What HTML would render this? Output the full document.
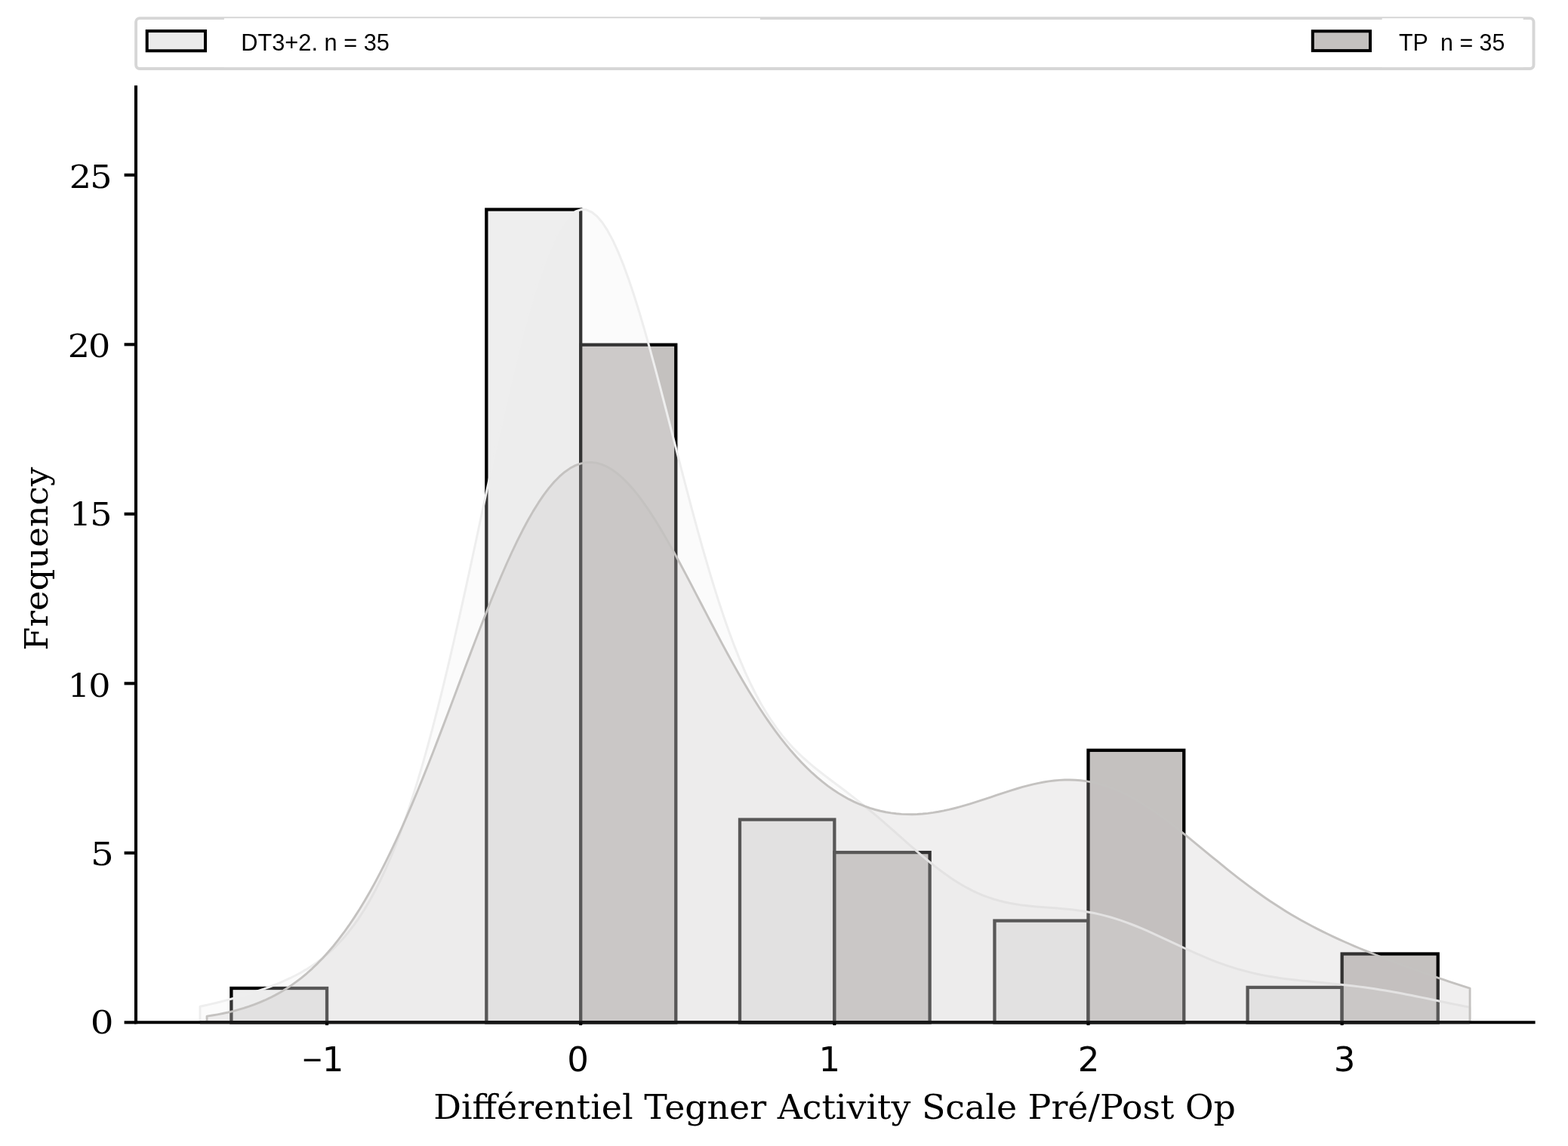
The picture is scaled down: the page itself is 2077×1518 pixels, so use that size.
<!DOCTYPE html>
<html lang="fr"><head><meta charset="utf-8"><title>Différentiel Tegner Activity Scale Pré/Post Op</title>
<style>
html,body{margin:0;padding:0;background:#fff;}
body{width:2077px;height:1518px;overflow:hidden;}
svg{display:block;position:absolute;left:0;top:0;}
text{fill:#000;white-space:pre;}
.serif{font-family:"DejaVu Serif","Liberation Serif",serif;}
.sans{font-family:"Liberation Sans","DejaVu Sans",sans-serif;}
.dsans{font-family:"DejaVu Sans","Liberation Sans",sans-serif;}
</style></head><body>
<svg width="2077" height="1518" viewBox="0 0 2077 1518">
<rect x="0" y="0" width="2077" height="1518" fill="#ffffff"/>
<g id="legend">
<rect x="180.1" y="24.1" width="1851.4" height="66.95" rx="5" ry="5" fill="#ffffff" stroke="#d6d6d6" stroke-width="3.9"/>
<rect x="296.9" y="24.2" width="710" height="64.9" fill="#ffffff"/>
<rect x="1830.7" y="24.2" width="187" height="64.9" fill="#ffffff"/>
<rect x="194.7" y="41.1" width="77.3" height="26.2" fill="#ebebeb" stroke="#000" stroke-width="4"/>
<rect x="1738.8" y="41.3" width="76.2" height="25.8" fill="#c4c1bf" stroke="#000" stroke-width="4"/>
<text class="sans" transform="translate(319.2 66.8) scale(0.98 1)" font-size="31.4">DT3+2. n = 35</text>
<text class="sans" transform="translate(1852.9 67.2) scale(0.968 1)" font-size="31.4">TP  n = 35</text>
</g>
<g id="bars" stroke="#000" stroke-width="4.3" stroke-linejoin="miter">
<rect x="306.39" y="1309.00" width="126.66" height="45.30" fill="#eeeeee"/>
<rect x="644.34" y="277.50" width="124.86" height="1076.80" fill="#eeeeee"/>
<rect x="979.99" y="1085.60" width="125.36" height="268.70" fill="#eeeeee"/>
<rect x="1317.44" y="1219.60" width="124.06" height="134.70" fill="#eeeeee"/>
<rect x="1652.59" y="1307.90" width="125.06" height="46.40" fill="#eeeeee"/>
<rect x="769.20" y="456.70" width="126.06" height="897.60" fill="#c4c1bf"/>
<rect x="1105.35" y="1129.10" width="126.26" height="225.20" fill="#c4c1bf"/>
<rect x="1441.50" y="993.80" width="126.76" height="360.50" fill="#c4c1bf"/>
<rect x="1777.65" y="1263.50" width="127.06" height="90.80" fill="#c4c1bf"/>
</g>
<g id="kde" stroke-linejoin="round">
<path d="M264.98 1354.30L264.98 1333.23L271.98 1331.70L278.99 1330.10L286.00 1328.44L293.01 1326.71L300.02 1324.92L307.03 1323.05L314.04 1321.11L321.04 1319.10L328.05 1316.99L335.06 1314.80L342.07 1312.50L349.08 1310.09L356.09 1307.55L363.10 1304.87L370.11 1302.02L377.11 1298.98L384.12 1295.73L391.13 1292.24L398.14 1288.48L405.15 1284.40L412.16 1279.98L419.17 1275.16L426.18 1269.90L433.18 1264.15L440.19 1257.86L447.20 1250.97L454.21 1243.43L461.22 1235.17L468.23 1226.14L475.24 1216.27L482.25 1205.51L489.25 1193.79L496.26 1181.06L503.27 1167.26L510.28 1152.34L517.29 1136.27L524.30 1118.99L531.31 1100.49L538.32 1080.73L545.32 1059.71L552.33 1037.42L559.34 1013.87L566.35 989.10L573.36 963.12L580.37 936.00L587.38 907.81L594.39 878.61L601.39 848.51L608.40 817.61L615.41 786.05L622.42 753.96L629.43 721.49L636.44 688.81L643.45 656.10L650.46 623.54L657.46 591.32L664.47 559.65L671.48 528.73L678.49 498.76L685.50 469.94L692.51 442.49L699.52 416.60L706.52 392.44L713.53 370.21L720.54 350.06L727.55 332.14L734.56 316.59L741.57 303.52L748.58 293.03L755.59 285.17L762.59 280.00L769.60 277.55L776.61 277.81L783.62 280.76L790.63 286.35L797.64 294.51L804.65 305.13L811.66 318.12L818.66 333.33L825.67 350.60L832.68 369.77L839.69 390.66L846.70 413.07L853.71 436.80L860.72 461.65L867.73 487.39L874.73 513.83L881.74 540.75L888.75 567.94L895.76 595.20L902.77 622.36L909.78 649.22L916.79 675.63L923.80 701.43L930.80 726.49L937.81 750.69L944.82 773.94L951.83 796.14L958.84 817.23L965.85 837.16L972.86 855.91L979.87 873.46L986.87 889.81L993.88 904.99L1000.89 919.01L1007.90 931.94L1014.91 943.82L1021.92 954.71L1028.93 964.69L1035.94 973.84L1042.94 982.23L1049.95 989.95L1056.96 997.09L1063.97 1003.73L1070.98 1009.96L1077.99 1015.85L1085.00 1021.49L1092.00 1026.94L1099.01 1032.26L1106.02 1037.53L1113.03 1042.77L1120.04 1048.05L1127.05 1053.39L1134.06 1058.82L1141.07 1064.36L1148.07 1070.02L1155.08 1075.80L1162.09 1081.69L1169.10 1087.69L1176.11 1093.78L1183.12 1099.94L1190.13 1106.14L1197.14 1112.36L1204.14 1118.56L1211.15 1124.70L1218.16 1130.76L1225.17 1136.69L1232.18 1142.47L1239.19 1148.07L1246.20 1153.44L1253.21 1158.57L1260.21 1163.43L1267.22 1168.00L1274.23 1172.26L1281.24 1176.20L1288.25 1179.81L1295.26 1183.10L1302.27 1186.06L1309.28 1188.70L1316.28 1191.02L1323.29 1193.05L1330.30 1194.81L1337.31 1196.30L1344.32 1197.57L1351.33 1198.64L1358.34 1199.54L1365.35 1200.29L1372.35 1200.94L1379.36 1201.51L1386.37 1202.04L1393.38 1202.55L1400.39 1203.09L1407.40 1203.67L1414.41 1204.34L1421.42 1205.10L1428.42 1205.99L1435.43 1207.02L1442.44 1208.21L1449.45 1209.57L1456.46 1211.11L1463.47 1212.84L1470.48 1214.76L1477.48 1216.86L1484.49 1219.15L1491.50 1221.61L1498.51 1224.23L1505.52 1227.01L1512.53 1229.92L1519.54 1232.94L1526.55 1236.07L1533.55 1239.28L1540.56 1242.54L1547.57 1245.84L1554.58 1249.15L1561.59 1252.46L1568.60 1255.74L1575.61 1258.97L1582.62 1262.13L1589.62 1265.21L1596.63 1268.18L1603.64 1271.05L1610.65 1273.78L1617.66 1276.38L1624.67 1278.84L1631.68 1281.15L1638.69 1283.31L1645.69 1285.31L1652.70 1287.17L1659.71 1288.87L1666.72 1290.44L1673.73 1291.86L1680.74 1293.16L1687.75 1294.34L1694.76 1295.41L1701.76 1296.39L1708.77 1297.28L1715.78 1298.10L1722.79 1298.87L1729.80 1299.59L1736.81 1300.28L1743.82 1300.95L1750.83 1301.61L1757.83 1302.28L1764.84 1302.96L1771.85 1303.67L1778.86 1304.41L1785.87 1305.19L1792.88 1306.01L1799.89 1306.88L1806.90 1307.81L1813.90 1308.79L1820.91 1309.83L1827.92 1310.93L1834.93 1312.08L1841.94 1313.28L1848.95 1314.54L1855.96 1315.84L1862.96 1317.18L1869.97 1318.55L1876.98 1319.96L1883.99 1321.39L1891.00 1322.84L1898.01 1324.30L1905.02 1325.76L1912.03 1327.22L1919.03 1328.67L1926.04 1330.11L1933.05 1331.53L1940.06 1332.91L1947.07 1334.27L1947.07 1354.30Z" fill="#eeeeee" fill-opacity="0.22" stroke="none"/>
<path d="M264.98 1354.30L264.98 1333.23L271.98 1331.70L278.99 1330.10L286.00 1328.44L293.01 1326.71L300.02 1324.92L307.03 1323.05L314.04 1321.11L321.04 1319.10L328.05 1316.99L335.06 1314.80L342.07 1312.50L349.08 1310.09L356.09 1307.55L363.10 1304.87L370.11 1302.02L377.11 1298.98L384.12 1295.73L391.13 1292.24L398.14 1288.48L405.15 1284.40L412.16 1279.98L419.17 1275.16L426.18 1269.90L433.18 1264.15L440.19 1257.86L447.20 1250.97L454.21 1243.43L461.22 1235.17L468.23 1226.14L475.24 1216.27L482.25 1205.51L489.25 1193.79L496.26 1181.06L503.27 1167.26L510.28 1152.34L517.29 1136.27L524.30 1118.99L531.31 1100.49L538.32 1080.73L545.32 1059.71L552.33 1037.42L559.34 1013.87L566.35 989.10L573.36 963.12L580.37 936.00L587.38 907.81L594.39 878.61L601.39 848.51L608.40 817.61L615.41 786.05L622.42 753.96L629.43 721.49L636.44 688.81L643.45 656.10L650.46 623.54L657.46 591.32L664.47 559.65L671.48 528.73L678.49 498.76L685.50 469.94L692.51 442.49L699.52 416.60L706.52 392.44L713.53 370.21L720.54 350.06L727.55 332.14L734.56 316.59L741.57 303.52L748.58 293.03L755.59 285.17L762.59 280.00L769.60 277.55L776.61 277.81L783.62 280.76L790.63 286.35L797.64 294.51L804.65 305.13L811.66 318.12L818.66 333.33L825.67 350.60L832.68 369.77L839.69 390.66L846.70 413.07L853.71 436.80L860.72 461.65L867.73 487.39L874.73 513.83L881.74 540.75L888.75 567.94L895.76 595.20L902.77 622.36L909.78 649.22L916.79 675.63L923.80 701.43L930.80 726.49L937.81 750.69L944.82 773.94L951.83 796.14L958.84 817.23L965.85 837.16L972.86 855.91L979.87 873.46L986.87 889.81L993.88 904.99L1000.89 919.01L1007.90 931.94L1014.91 943.82L1021.92 954.71L1028.93 964.69L1035.94 973.84L1042.94 982.23L1049.95 989.95L1056.96 997.09L1063.97 1003.73L1070.98 1009.96L1077.99 1015.85L1085.00 1021.49L1092.00 1026.94L1099.01 1032.26L1106.02 1037.53L1113.03 1042.77L1120.04 1048.05L1127.05 1053.39L1134.06 1058.82L1141.07 1064.36L1148.07 1070.02L1155.08 1075.80L1162.09 1081.69L1169.10 1087.69L1176.11 1093.78L1183.12 1099.94L1190.13 1106.14L1197.14 1112.36L1204.14 1118.56L1211.15 1124.70L1218.16 1130.76L1225.17 1136.69L1232.18 1142.47L1239.19 1148.07L1246.20 1153.44L1253.21 1158.57L1260.21 1163.43L1267.22 1168.00L1274.23 1172.26L1281.24 1176.20L1288.25 1179.81L1295.26 1183.10L1302.27 1186.06L1309.28 1188.70L1316.28 1191.02L1323.29 1193.05L1330.30 1194.81L1337.31 1196.30L1344.32 1197.57L1351.33 1198.64L1358.34 1199.54L1365.35 1200.29L1372.35 1200.94L1379.36 1201.51L1386.37 1202.04L1393.38 1202.55L1400.39 1203.09L1407.40 1203.67L1414.41 1204.34L1421.42 1205.10L1428.42 1205.99L1435.43 1207.02L1442.44 1208.21L1449.45 1209.57L1456.46 1211.11L1463.47 1212.84L1470.48 1214.76L1477.48 1216.86L1484.49 1219.15L1491.50 1221.61L1498.51 1224.23L1505.52 1227.01L1512.53 1229.92L1519.54 1232.94L1526.55 1236.07L1533.55 1239.28L1540.56 1242.54L1547.57 1245.84L1554.58 1249.15L1561.59 1252.46L1568.60 1255.74L1575.61 1258.97L1582.62 1262.13L1589.62 1265.21L1596.63 1268.18L1603.64 1271.05L1610.65 1273.78L1617.66 1276.38L1624.67 1278.84L1631.68 1281.15L1638.69 1283.31L1645.69 1285.31L1652.70 1287.17L1659.71 1288.87L1666.72 1290.44L1673.73 1291.86L1680.74 1293.16L1687.75 1294.34L1694.76 1295.41L1701.76 1296.39L1708.77 1297.28L1715.78 1298.10L1722.79 1298.87L1729.80 1299.59L1736.81 1300.28L1743.82 1300.95L1750.83 1301.61L1757.83 1302.28L1764.84 1302.96L1771.85 1303.67L1778.86 1304.41L1785.87 1305.19L1792.88 1306.01L1799.89 1306.88L1806.90 1307.81L1813.90 1308.79L1820.91 1309.83L1827.92 1310.93L1834.93 1312.08L1841.94 1313.28L1848.95 1314.54L1855.96 1315.84L1862.96 1317.18L1869.97 1318.55L1876.98 1319.96L1883.99 1321.39L1891.00 1322.84L1898.01 1324.30L1905.02 1325.76L1912.03 1327.22L1919.03 1328.67L1926.04 1330.11L1933.05 1331.53L1940.06 1332.91L1947.07 1334.27L1947.07 1354.30" fill="none" stroke="#eeeeee" stroke-width="3"/>
<path d="M274.05 1354.30L274.05 1346.13L281.02 1345.04L287.99 1343.83L294.96 1342.47L301.93 1340.97L308.91 1339.29L315.88 1337.44L322.85 1335.40L329.82 1333.15L336.79 1330.66L343.76 1327.94L350.73 1324.95L357.70 1321.68L364.67 1318.11L371.64 1314.22L378.61 1309.99L385.59 1305.40L392.56 1300.43L399.53 1295.06L406.50 1289.28L413.47 1283.05L420.44 1276.36L427.41 1269.20L434.38 1261.55L441.35 1253.38L448.32 1244.69L455.29 1235.47L462.27 1225.69L469.24 1215.36L476.21 1204.46L483.18 1192.99L490.15 1180.95L497.12 1168.34L504.09 1155.16L511.06 1141.43L518.03 1127.15L525.00 1112.34L531.97 1097.02L538.95 1081.20L545.92 1064.93L552.89 1048.23L559.86 1031.13L566.83 1013.67L573.80 995.91L580.77 977.87L587.74 959.62L594.71 941.21L601.68 922.69L608.65 904.13L615.63 885.59L622.60 867.13L629.57 848.82L636.54 830.73L643.51 812.93L650.48 795.50L657.45 778.49L664.42 761.98L671.39 746.04L678.36 730.73L685.33 716.13L692.31 702.28L699.28 689.26L706.25 677.12L713.22 665.90L720.19 655.66L727.16 646.43L734.13 638.26L741.10 631.17L748.07 625.19L755.04 620.33L762.01 616.62L768.99 614.05L775.96 612.62L782.93 612.33L789.90 613.16L796.87 615.10L803.84 618.11L810.81 622.17L817.78 627.23L824.75 633.27L831.72 640.22L838.69 648.04L845.67 656.67L852.64 666.06L859.61 676.14L866.58 686.85L873.55 698.12L880.52 709.90L887.49 722.10L894.46 734.67L901.43 747.54L908.40 760.64L915.37 773.92L922.35 787.30L929.32 800.72L936.29 814.14L943.26 827.50L950.23 840.74L957.20 853.83L964.17 866.70L971.14 879.34L978.11 891.69L985.08 903.73L992.05 915.43L999.03 926.77L1006.00 937.72L1012.97 948.26L1019.94 958.39L1026.91 968.09L1033.88 977.36L1040.85 986.18L1047.82 994.57L1054.79 1002.51L1061.76 1010.01L1068.73 1017.07L1075.71 1023.70L1082.68 1029.90L1089.65 1035.69L1096.62 1041.07L1103.59 1046.04L1110.56 1050.62L1117.53 1054.82L1124.50 1058.65L1131.47 1062.11L1138.44 1065.21L1145.41 1067.97L1152.39 1070.40L1159.36 1072.49L1166.33 1074.27L1173.30 1075.73L1180.27 1076.90L1187.24 1077.76L1194.21 1078.35L1201.18 1078.66L1208.15 1078.70L1215.12 1078.49L1222.09 1078.03L1229.07 1077.33L1236.04 1076.41L1243.01 1075.28L1249.98 1073.95L1256.95 1072.44L1263.92 1070.76L1270.89 1068.93L1277.86 1066.96L1284.83 1064.88L1291.80 1062.71L1298.77 1060.46L1305.75 1058.15L1312.72 1055.82L1319.69 1053.47L1326.66 1051.14L1333.63 1048.86L1340.60 1046.63L1347.57 1044.50L1354.54 1042.47L1361.51 1040.59L1368.48 1038.86L1375.45 1037.31L1382.43 1035.97L1389.40 1034.85L1396.37 1033.98L1403.34 1033.36L1410.31 1033.02L1417.28 1032.98L1424.25 1033.23L1431.22 1033.80L1438.19 1034.68L1445.16 1035.89L1452.13 1037.43L1459.11 1039.30L1466.08 1041.49L1473.05 1044.01L1480.02 1046.85L1486.99 1049.99L1493.96 1053.43L1500.93 1057.16L1507.90 1061.16L1514.87 1065.42L1521.84 1069.91L1528.81 1074.62L1535.79 1079.54L1542.76 1084.63L1549.73 1089.88L1556.70 1095.27L1563.67 1100.78L1570.64 1106.37L1577.61 1112.04L1584.58 1117.76L1591.55 1123.51L1598.52 1129.27L1605.49 1135.02L1612.47 1140.74L1619.44 1146.42L1626.41 1152.04L1633.38 1157.58L1640.35 1163.04L1647.32 1168.40L1654.29 1173.65L1661.26 1178.79L1668.23 1183.80L1675.20 1188.69L1682.17 1193.45L1689.15 1198.07L1696.12 1202.56L1703.09 1206.92L1710.06 1211.14L1717.03 1215.23L1724.00 1219.20L1730.97 1223.04L1737.94 1226.77L1744.91 1230.38L1751.88 1233.89L1758.86 1237.29L1765.83 1240.61L1772.80 1243.83L1779.77 1246.97L1786.74 1250.04L1793.71 1253.05L1800.68 1255.99L1807.65 1258.87L1814.62 1261.70L1821.59 1264.49L1828.56 1267.23L1835.54 1269.94L1842.51 1272.61L1849.48 1275.24L1856.45 1277.85L1863.42 1280.43L1870.39 1282.98L1877.36 1285.51L1884.33 1288.01L1891.30 1290.48L1898.27 1292.92L1905.24 1295.34L1912.22 1297.72L1919.19 1300.07L1926.16 1302.39L1933.13 1304.67L1940.10 1306.91L1947.07 1309.11L1947.07 1354.30Z" fill="#c3c1bf" fill-opacity="0.255" stroke="none"/>
<path d="M274.05 1354.30L274.05 1346.13L281.02 1345.04L287.99 1343.83L294.96 1342.47L301.93 1340.97L308.91 1339.29L315.88 1337.44L322.85 1335.40L329.82 1333.15L336.79 1330.66L343.76 1327.94L350.73 1324.95L357.70 1321.68L364.67 1318.11L371.64 1314.22L378.61 1309.99L385.59 1305.40L392.56 1300.43L399.53 1295.06L406.50 1289.28L413.47 1283.05L420.44 1276.36L427.41 1269.20L434.38 1261.55L441.35 1253.38L448.32 1244.69L455.29 1235.47L462.27 1225.69L469.24 1215.36L476.21 1204.46L483.18 1192.99L490.15 1180.95L497.12 1168.34L504.09 1155.16L511.06 1141.43L518.03 1127.15L525.00 1112.34L531.97 1097.02L538.95 1081.20L545.92 1064.93L552.89 1048.23L559.86 1031.13L566.83 1013.67L573.80 995.91L580.77 977.87L587.74 959.62L594.71 941.21L601.68 922.69L608.65 904.13L615.63 885.59L622.60 867.13L629.57 848.82L636.54 830.73L643.51 812.93L650.48 795.50L657.45 778.49L664.42 761.98L671.39 746.04L678.36 730.73L685.33 716.13L692.31 702.28L699.28 689.26L706.25 677.12L713.22 665.90L720.19 655.66L727.16 646.43L734.13 638.26L741.10 631.17L748.07 625.19L755.04 620.33L762.01 616.62L768.99 614.05L775.96 612.62L782.93 612.33L789.90 613.16L796.87 615.10L803.84 618.11L810.81 622.17L817.78 627.23L824.75 633.27L831.72 640.22L838.69 648.04L845.67 656.67L852.64 666.06L859.61 676.14L866.58 686.85L873.55 698.12L880.52 709.90L887.49 722.10L894.46 734.67L901.43 747.54L908.40 760.64L915.37 773.92L922.35 787.30L929.32 800.72L936.29 814.14L943.26 827.50L950.23 840.74L957.20 853.83L964.17 866.70L971.14 879.34L978.11 891.69L985.08 903.73L992.05 915.43L999.03 926.77L1006.00 937.72L1012.97 948.26L1019.94 958.39L1026.91 968.09L1033.88 977.36L1040.85 986.18L1047.82 994.57L1054.79 1002.51L1061.76 1010.01L1068.73 1017.07L1075.71 1023.70L1082.68 1029.90L1089.65 1035.69L1096.62 1041.07L1103.59 1046.04L1110.56 1050.62L1117.53 1054.82L1124.50 1058.65L1131.47 1062.11L1138.44 1065.21L1145.41 1067.97L1152.39 1070.40L1159.36 1072.49L1166.33 1074.27L1173.30 1075.73L1180.27 1076.90L1187.24 1077.76L1194.21 1078.35L1201.18 1078.66L1208.15 1078.70L1215.12 1078.49L1222.09 1078.03L1229.07 1077.33L1236.04 1076.41L1243.01 1075.28L1249.98 1073.95L1256.95 1072.44L1263.92 1070.76L1270.89 1068.93L1277.86 1066.96L1284.83 1064.88L1291.80 1062.71L1298.77 1060.46L1305.75 1058.15L1312.72 1055.82L1319.69 1053.47L1326.66 1051.14L1333.63 1048.86L1340.60 1046.63L1347.57 1044.50L1354.54 1042.47L1361.51 1040.59L1368.48 1038.86L1375.45 1037.31L1382.43 1035.97L1389.40 1034.85L1396.37 1033.98L1403.34 1033.36L1410.31 1033.02L1417.28 1032.98L1424.25 1033.23L1431.22 1033.80L1438.19 1034.68L1445.16 1035.89L1452.13 1037.43L1459.11 1039.30L1466.08 1041.49L1473.05 1044.01L1480.02 1046.85L1486.99 1049.99L1493.96 1053.43L1500.93 1057.16L1507.90 1061.16L1514.87 1065.42L1521.84 1069.91L1528.81 1074.62L1535.79 1079.54L1542.76 1084.63L1549.73 1089.88L1556.70 1095.27L1563.67 1100.78L1570.64 1106.37L1577.61 1112.04L1584.58 1117.76L1591.55 1123.51L1598.52 1129.27L1605.49 1135.02L1612.47 1140.74L1619.44 1146.42L1626.41 1152.04L1633.38 1157.58L1640.35 1163.04L1647.32 1168.40L1654.29 1173.65L1661.26 1178.79L1668.23 1183.80L1675.20 1188.69L1682.17 1193.45L1689.15 1198.07L1696.12 1202.56L1703.09 1206.92L1710.06 1211.14L1717.03 1215.23L1724.00 1219.20L1730.97 1223.04L1737.94 1226.77L1744.91 1230.38L1751.88 1233.89L1758.86 1237.29L1765.83 1240.61L1772.80 1243.83L1779.77 1246.97L1786.74 1250.04L1793.71 1253.05L1800.68 1255.99L1807.65 1258.87L1814.62 1261.70L1821.59 1264.49L1828.56 1267.23L1835.54 1269.94L1842.51 1272.61L1849.48 1275.24L1856.45 1277.85L1863.42 1280.43L1870.39 1282.98L1877.36 1285.51L1884.33 1288.01L1891.30 1290.48L1898.27 1292.92L1905.24 1295.34L1912.22 1297.72L1919.19 1300.07L1926.16 1302.39L1933.13 1304.67L1940.10 1306.91L1947.07 1309.11L1947.07 1354.30" fill="none" stroke="#c4c2c0" stroke-width="2.9"/>
</g>
<g id="axes" stroke="#000" stroke-width="4.1" fill="none">
<line x1="180" y1="113.2" x2="180" y2="1356.35" stroke-linecap="butt"/>
<line x1="177.95" y1="1354.30" x2="2033.6" y2="1354.30" stroke-width="3.9"/>
<line x1="264.98" y1="1354.30" x2="1946.72" y2="1354.30" stroke="#171717" stroke-width="3.9"/>
<line x1="164.6" y1="1354.30" x2="180" y2="1354.30"/>
<line x1="164.6" y1="1129.80" x2="180" y2="1129.80"/>
<line x1="164.6" y1="905.30" x2="180" y2="905.30"/>
<line x1="164.6" y1="680.80" x2="180" y2="680.80"/>
<line x1="164.6" y1="456.30" x2="180" y2="456.30"/>
<line x1="164.6" y1="231.80" x2="180" y2="231.80"/>
<line x1="433.05" y1="1354.30" x2="433.05" y2="1358.10"/>
<line x1="769.20" y1="1354.30" x2="769.20" y2="1358.10"/>
<line x1="1105.35" y1="1354.30" x2="1105.35" y2="1358.10"/>
<line x1="1441.50" y1="1354.30" x2="1441.50" y2="1358.10"/>
<line x1="1777.65" y1="1354.30" x2="1777.65" y2="1358.10"/>
</g>
<g id="yticks" class="serif" font-size="42.5" text-anchor="end">
<text transform="translate(150.70 1369.30) scale(1.14 1)">0</text>
<text transform="translate(150.80 1145.80) scale(1.14 1)">5</text>
<text transform="translate(144.70 922.70) scale(1.083 1)" letter-spacing="-1.7">10</text>
<text transform="translate(146.60 695.80) scale(1.083 1)" letter-spacing="-1.7">15</text>
<text transform="translate(144.50 472.70) scale(1.083 1)" letter-spacing="-1.7">20</text>
<text transform="translate(146.60 249.30) scale(1.083 1)" letter-spacing="-1.7">25</text>
</g>
<g id="xticks" class="dsans" font-size="45" text-anchor="middle">
<text x="428.0" y="1418.9"><tspan class="sans">−</tspan>1</text>
<text x="765.5" y="1418.9">0</text>
<text x="1098.7" y="1418.9">1</text>
<text x="1442.1" y="1418.9">2</text>
<text x="1781.1" y="1418.9">3</text>
</g>
<text class="serif" font-size="45.83" text-anchor="middle" transform="translate(1105.5 1482) scale(1 0.977)">Différentiel Tegner Activity Scale Pré/Post Op</text>
<text class="serif" font-size="45.83" text-anchor="middle" transform="translate(63.3 740.2) rotate(-90) scale(0.981 0.951)">Frequency</text>
</svg>
</body></html>
